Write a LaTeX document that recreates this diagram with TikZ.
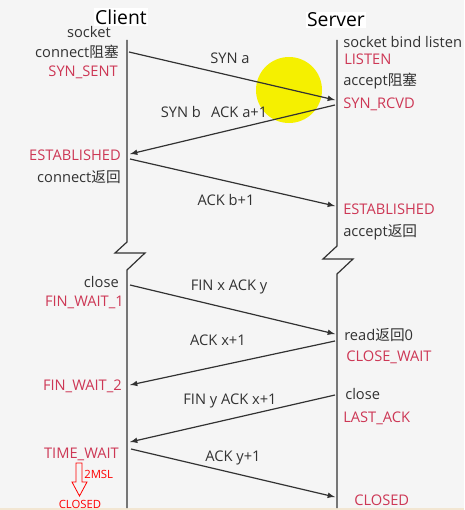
\documentclass[tikz,border=0pt]{standalone}
\usepackage{fontspec}
\setmainfont{Open Sans}
\newfontfamily\cjk{Noto Sans CJK SC}
\usepackage{xcolor}
\usepackage{tikz}
\usetikzlibrary{arrows}

\definecolor{ink}{RGB}{50,50,50}
\definecolor{statered}{RGB}{205,55,85}
\definecolor{bgcol}{RGB}{245,245,245}
\definecolor{strip}{RGB}{242,230,210}
\definecolor{hilite}{RGB}{245,240,0}

\begin{document}
\begin{tikzpicture}[
      x=0.75pt, y=-0.75pt,
      txt/.style={
            font=\fontsize{11}{13}\selectfont,
            text=ink, inner sep=0pt
        },
      cl/.style={txt, anchor=east},
      sv/.style={txt, anchor=west},
      st/.style={text=statered},
      title/.style={
            font=\fontsize{14.5}{17}\selectfont,
            fill=white, inner sep=1pt, text=black
        },
      life/.style={draw=ink, line width=0.9pt},
      msg/.style={-latex, draw=ink, line width=0.9pt},
      note/.style={font=\fontsize{8.5}{10}\selectfont, text=red, inner sep=0pt}
      ]
    \fill[bgcol] (0,0) rectangle (464,510);
    \fill[strip] (0,508) rectangle (464,510);
    \useasboundingbox (0,0) rectangle (464,510);

    \fill[hilite] (289,90) circle (24.75pt);

    \node[title] (client) at (121,17) {Client};
    \node[title] (server) at (336,20) {Server};

    \draw[life] (127,40) -- (127,242) -- (115,253) -- (145,253) -- (127,270) -- (127,508);
    \draw[life] (337,40) -- (337,246) -- (323,259) -- (353,259) -- (337,274) -- (337,508);

    % client side
    \node[cl] (cSock) at (111,32) {socket};
    \node[cl] (cConn) at (119,52) {connect{\cjk 阻塞}};
    \node[cl,st] (cSent) at (118,72) {SYN\_SENT};
    \node[cl,st] (cEst) at (121,155) {ESTABLISHED};
    \node[cl] (cRet) at (121,177) {connect{\cjk 返回}};
    \node[cl] (cClose) at (119,282) {close};
    \node[cl,st] (cFw1) at (124,302) {FIN\_WAIT\_1};
    \node[cl,st] (cFw2) at (122,386) {FIN\_WAIT\_2};
    \node[cl,st] (cTw) at (119,454) {TIME\_WAIT};

    % server side
    \node[sv] (sSock) at (343,42) {socket bind listen};
    \node[sv,st] (sListen) at (344,59) {LISTEN};
    \node[sv] (sAcc) at (343,81) {accept{\cjk 阻塞}};
    \node[sv,st] (sRcvd) at (343,104) {SYN\_RCVD};
    \node[sv,st] (sEst) at (343,209) {ESTABLISHED};
    \node[sv] (sRet) at (343,232) {accept{\cjk 返回}};
    \node[sv] (sRead) at (344,335) {read{\cjk 返回}0};
    \node[sv,st] (sCw) at (346,357) {CLOSE\_WAIT};
    \node[sv] (sClose) at (345,394) {close};
    \node[sv,st] (sLast) at (343,418) {LAST\_ACK};
    \node[sv,st] (sClosed) at (354,500) {CLOSED};

    % messages
    \coordinate (c1) at (129,52);  \coordinate (s1) at (335,100);
    \coordinate (s2) at (335,105); \coordinate (c2) at (130,154);
    \coordinate (c3) at (130,159); \coordinate (s3) at (335,206);
    \coordinate (c4) at (130,285); \coordinate (s4) at (335,334);
    \coordinate (s5) at (335,341); \coordinate (c5) at (130,385);
    \coordinate (s6) at (335,395); \coordinate (c6) at (130,442);
    \coordinate (c7) at (131,449); \coordinate (s7) at (335,497);

    \draw[msg] (c1) -- (s1);
    \draw[msg] (s2) -- (c2);
    \draw[msg] (c3) -- (s3);
    \draw[msg] (c4) -- (s4);
    \draw[msg] (s5) -- (c5);
    \draw[msg] (s6) -- (c6);
    \draw[msg] (c7) -- (s7);

    \node[txt] (m1) at (230,58) {SYN a};
    \node[txt] (m2) at (214,112) {SYN b\hspace{0.7em}ACK a+1};
    \node[txt] (m3) at (226,200) {ACK b+1};
    \node[txt] (m4) at (229,287) {FIN x ACK y};
    \node[txt] (m5) at (218,340) {ACK x+1};
    \node[txt] (m6) at (230,401) {FIN y ACK x+1};
    \node[txt] (m7) at (233,458) {ACK y+1};

    % 2MSL wait
    \draw[red, line width=0.6pt] (76,463) -- (82,463) -- (82,482) -- (87,482)
      -- (79.5,496) -- (72,482) -- (76,482) -- cycle;
    \node[note, anchor=west] (msl) at (84,474) {2MSL};
    \node[note] (cClosed) at (80,504) {CLOSED};
\end{tikzpicture}
\end{document}
